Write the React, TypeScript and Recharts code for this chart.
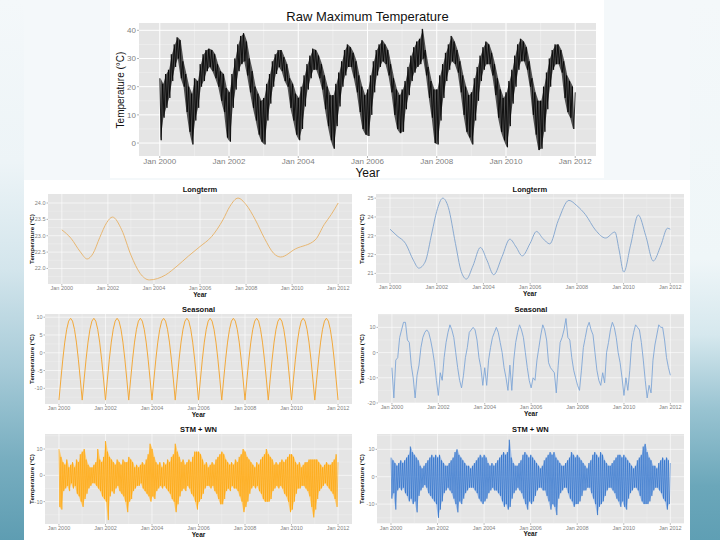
import React from 'react';
import { ComposedChart, Line, Area, XAxis, YAxis, CartesianGrid } from 'recharts';

const YEAR_TICKS = [2000, 2002, 2004, 2006, 2008, 2010, 2012];
const MINOR_YEARS = [2001, 2003, 2005, 2007, 2009, 2011];

// Raw maximum temperature: two readings per month (upper, lower), Jan 2000 .. Dec 2011, then Jan 2012
const rawMaxTemp = [
  23, 1, 21, 9, 24.5, 12.5, 26, 16, 31.5, 22, 35, 27, 37.5, 30, 36.5, 23, 29, 20, 24.5, 11, 20, 4, 17.5, -0.5,
  23, 8, 22, 12.5, 28, 20, 31.5, 22, 33, 25.5, 33.5, 27, 33, 25.5, 31.5, 23, 28, 20, 25.5, 15, 24.5, 11, 19.5, 2,
  18, 0.5, 24.5, 12.5, 30, 19, 35, 25.5, 38, 28, 39, 29, 36, 24, 30, 18, 25.5, 12.5, 20, 8, 17.5, 3, 15, 0.5,
  16, -0.5, 21, 8, 24.5, 14, 29, 20, 31.5, 24.5, 33, 27, 33, 25.5, 30.5, 22, 28, 20, 23, 12.5, 21, 8, 17.5, 3,
  16, 1, 20, 5, 24, 13, 28, 19, 31, 23, 33.5, 26, 33, 26, 31, 23, 28, 19, 24, 12, 20, 6, 17, 1,
  17, -2, 21, 6, 25, 13, 29, 20, 33, 24, 35, 27, 34, 27, 32, 23, 29, 18, 24, 11, 20, 5, 17, 3,
  19, 2.5, 24, 10, 29, 18, 33, 24, 35, 27, 36.5, 29, 35, 28, 33, 24, 28, 18, 23, 10, 19, 5, 17, 3.5,
  19, 4, 22, 12, 27, 17, 31, 22, 34, 25, 36, 27, 37, 28, 40.5, 30, 33, 24, 27, 16, 22, 9, 19, 0,
  19, -0.5, 24, 8, 28, 16, 32, 22, 35, 26, 38, 29, 36, 28, 33, 25, 29, 18, 24, 10, 20, 4, 17, 2,
  18, -0.5, 23, 8, 27, 15, 31, 22, 34, 26, 36, 28, 35, 28, 32, 24, 28, 17, 23, 9, 19, 4, 16, 1,
  18, -1.5, 22, 6, 26, 14, 31, 20, 35, 26, 37, 29, 36, 29, 34, 26, 29, 20, 23, 10, 18, 3, 15, -2.5,
  15, -2, 20, 4, 25, 12, 30, 20, 33, 26, 35, 28, 35, 28, 33, 25, 29, 16, 24, 11, 22, 9, 20, 5,
  18,
];

// Longterm component (orange)
const longtermOrangeTime = [
  2000.0, 2000.4, 2000.8, 2001.1, 2001.35, 2001.65, 2001.95, 2002.2, 2002.6, 2003.0, 2003.4,
  2003.8, 2004.5, 2005.0, 2005.5, 2006.0, 2006.5, 2007.0, 2007.3, 2007.65, 2008.0, 2008.4,
  2008.8, 2009.2, 2009.5, 2010.15, 2011.0, 2011.4, 2011.7, 2012.0,
];
const longtermOrangeValue = [
  23.18, 22.92, 22.51, 22.29, 22.45, 22.95, 23.4, 23.57, 23.18, 22.41, 21.85,
  21.65, 21.8, 22.07, 22.38, 22.67, 22.97, 23.49, 23.9, 24.15, 23.95, 23.49,
  22.92, 22.46, 22.35, 22.6, 22.87, 23.35, 23.65, 24.0,
];

// Longterm component (blue)
const longtermBlueTime = [
  2000.0, 2000.3, 2000.66, 2001.0, 2001.23, 2001.5, 2001.8, 2002.0, 2002.26, 2002.5, 2002.8,
  2003.05, 2003.27, 2003.55, 2003.87, 2004.15, 2004.44, 2004.8, 2005.13, 2005.4, 2005.66,
  2006.0, 2006.27, 2006.55, 2006.84, 2007.2, 2007.66, 2008.0, 2008.37, 2008.8, 2009.23,
  2009.63, 2009.8, 2010.01, 2010.3, 2010.63, 2010.95, 2011.27, 2011.6, 2011.88, 2012.0,
];
const longtermBlueValue = [
  23.35, 23.0, 22.6, 21.7, 21.28, 21.6, 23.2, 24.3, 25.0, 24.5, 22.6,
  21.1, 20.7, 21.4, 22.38, 21.7, 20.93, 21.9, 22.82, 22.4, 21.93,
  22.6, 23.23, 22.85, 22.57, 23.8, 24.88, 24.6, 24.12, 23.3, 22.88,
  23.2, 22.3, 21.07, 22.5, 24.1, 23.0, 21.66, 22.5, 23.4, 23.35,
];

// Seasonal component (orange): the same monthly cycle every year, Jan..Dec
const seasonalCycleOrange = [-13.3, -7.4, -1.8, 3.0, 6.6, 8.9, 9.7, 8.9, 6.6, 3.0, -1.8, -7.4];

// Seasonal component (blue): monthly, Jan 2000 .. Dec 2011, then Jan 2012
const seasonalBlue = [
  -6, -18, -3, -2, 6, 9, 12, 12, 5, 4, -5, -10,
  -18, -9, -5, 2, 6, 8, 9, 8, 5, 1, -4, -11,
  -17, -8, -11, -2, 4, 8, 11, 9, 6, 0, -6, -11,
  -14, -9, -2, 2, 8, 9, 10, 9, 5, -2, -6, -13,
  -6, -13, -3, 2, 6, 8, 10, 8, 4, 0, -6, -10,
  -15, -5, -15, -3, 4, 8, 11, 9, 6, 0, -6, -11,
  -14, -10, -11, -3, 2, 7, 11, 9, 5, -4, -6, -7,
  -8, -16, -5, 4, 6, 9, 13.5, 6, 5, -2, -7, -10,
  -13, -15, -7, 2, 6, 10, 12, 9, 7, 0, -7, -11,
  -13, -8, -12, 0, 4, 9, 12, 10, 6, 0, -4, -10,
  -17, -10, -15, -7, 4, 8, 11, 10, 9, 4, -3, -11,
  -18, -13, -16, -3, 3, 7, 11, 10, 10, 5, -2, -6,
  -9,
];

// STM + WN (orange): two readings per month (upper, lower)
const stmOrange = [
  10, -12, 7, -13, 5, -6, 4, -5, 6, -4, 3, -6, 4, -3, 5, -5, 3, -4, 6, -7, 5, -8, 8, -10,
  9, -12, 10, -9, 6, -7, 4, -5, 3, -4, 3, -3, 4, -3, 5, -4, 10, -5, 6, -6, 5, -8, 7, -9,
  13, -10, 9, -17, 7, -8, 6, -6, 5, -7, 4, -5, 6, -4, 5, -6, 4, -7, 6, -8, 5, -10, 5, -14,
  7, -10, 6, -9, 5, -6, 3, -5, 4, -4, 3, -4, 4, -3, 5, -5, 4, -6, 6, -7, 8, -8, 12, -10,
  10, -8, 7, -9, 5, -6, 4, -5, 5, -4, 3, -5, 5, -4, 4, -5, 6, -6, 5, -7, 7, -9, 8, -10,
  12, -14, 9, -11, 7, -8, 5, -6, 6, -5, 4, -6, 5, -4, 6, -5, 5, -7, 7, -8, 9, -10, 9, -13,
  9, -10, 8, -9, 6, -7, 4, -5, 5, -4, 3, -4, 4, -5, 5, -4, 4, -6, 6, -7, 7, -9, 8, -11,
  9, -11, 8, -9, 6, -6, 5, -5, 4, -6, 5, -4, 4, -5, 6, -5, 5, -6, 7, -8, 8, -10, 10, -14,
  9, -12, 7, -10, 6, -7, 5, -5, 4, -4, 3, -5, 5, -4, 4, -6, 6, -7, 7, -9, 8, -10, 10, -10,
  8, -10, 7, -9, 6, -6, 4, -5, 5, -4, 4, -5, 5, -4, 6, -5, 5, -7, 6, -8, 7, -10, 8, -14,
  8, -13, 7, -10, 5, -7, 4, -5, 5, -5, 3, -4, 4, -4, 5, -5, 5, -6, 6, -8, 6, -12, 6, -16,
  6, -13, 6, -9, 5, -6, 4, -5, 3, -4, 4, -3, 5, -4, 4, -5, 4, -6, 5, -7, 6, -9, 8, -12,
  5,
];

// STM + WN (blue): two readings per month (upper, lower)
const stmBlue = [
  7, -8, 6, -6, 5, -12, 4, -5, 5, -4, 6, -5, 5, -4, 6, -6, 7, -7, 8, -9, 11, -8, 9, -10,
  8, -9, 7, -13, 6, -7, 4, -5, 3, -4, 4, -3, 5, -4, 6, -6, 7, -7, 8, -8, 7, -9, 8, -10,
  7, -15, 8, -12, 6, -9, 5, -6, 4, -5, 4, -4, 5, -5, 6, -6, 7, -8, 9, -10, 10, -13, 8, -9,
  7, -10, 6, -8, 5, -6, 4, -5, 4, -4, 3, -4, 4, -4, 5, -5, 6, -6, 7, -8, 8, -9, 7, -10,
  8, -9, 7, -8, 5, -6, 4, -5, 5, -4, 4, -5, 5, -5, 6, -6, 7, -7, 8, -9, 9, -11, 8, -10,
  9, -12, 13.5, -11, 7, -8, 5, -6, 4, -5, 4, -4, 5, -5, 6, -6, 8, -8, 9, -10, 8, -12, 7, -9,
  8, -10, 7, -9, 6, -7, 5, -5, 4, -4, 3, -4, 4, -5, 6, -5, 7, -7, 8, -9, 9, -12, 8, -10,
  9, -11, 7, -14, 6, -8, 5, -6, 4, -5, 4, -4, 5, -4, 6, -6, 7, -8, 9, -9, 8, -11, 7, -10,
  8, -10, 7, -9, 6, -7, 5, -5, 4, -5, 3, -4, 5, -4, 6, -6, 8, -8, 9, -10, 8, -14, 7, -11,
  9, -10, 8, -9, 6, -7, 5, -5, 4, -4, 4, -4, 5, -5, 6, -6, 7, -8, 8, -9, 8, -11, 7, -9,
  8, -11, 7, -12, 6, -8, 5, -6, 4, -5, 3, -4, 4, -4, 6, -5, 7, -7, 8, -9, 11, -10, 12, -10,
  9, -10, 7, -9, 6, -7, 4, -5, 4, -4, 3, -4, 5, -5, 6, -6, 7, -8, 6, -9, 7, -12, 6, -10,
  5,
];

type Pt = { t: number; v: number };
type Band = { t: number; lo: number; hi: number };

const regular = (vals: number[], perYear: number): Pt[] =>
  vals.map((v, i) => ({ t: 2000 + i / perYear, v }));

// monthly envelope (lower, upper) from the paired readings
const envelope = (vals: number[]): Band[] => {
  const out: Band[] = [];
  for (let k = 0; 2 * k + 1 < vals.length; k++) {
    out.push({ t: 2000 + (2 * k + 0.5) / 24, lo: vals[2 * k + 1], hi: vals[2 * k] });
  }
  return out;
};

const rawData = regular(rawMaxTemp, 24);
const rawBand = envelope(rawMaxTemp);
const ltOrangeData: Pt[] = longtermOrangeTime.map((t, i) => ({ t, v: longtermOrangeValue[i] }));
const ltBlueData: Pt[] = longtermBlueTime.map((t, i) => ({ t, v: longtermBlueValue[i] }));
const seOrangeData: Pt[] = Array.from({ length: 145 }, (_, i) => ({
  t: 2000 + i / 12,
  v: seasonalCycleOrange[i % 12],
}));
const seBlueData = regular(seasonalBlue, 12);
const stOrangeData = regular(stmOrange, 24);
const stOrangeBand = envelope(stmOrange);
const stBlueData = regular(stmBlue, 24);
const stBlueBand = envelope(stmBlue);

const FONT = '"Liberation Sans", Arial, sans-serif';
const TICK_COLOR = '#7F7F7F';

type PanelProps = {
  data: Pt[];
  band?: Band[];
  bandFill?: string;
  bandOpacity?: number;
  left: number;
  top: number;
  right: number;
  bottom: number;
  yDomain: [number, number];
  yTicks: number[];
  yMinor: number[];
  color: string;
  strokeWidth: number;
  curve: 'linear' | 'monotone';
  yAxisW: number;
  xAxisH: number;
  tickFont: number;
  tickSize: number;
  tickMargin?: number;
  majorW: number;
  minorW: number;
  fmt?: (v: number) => string;
  opacity?: number;
};

function Panel(p: PanelProps) {
  const w = p.right - p.left + p.yAxisW;
  const h = p.bottom - p.top + p.xAxisH;
  const tickStyle = { fontSize: p.tickFont, fill: TICK_COLOR, fontFamily: FONT };
  const tm = p.tickMargin ?? 1;
  return (
    <div style={{ position: 'absolute', left: p.left - p.yAxisW, top: p.top, width: w, height: h }}>
      <ComposedChart width={w} height={h} margin={{ top: 0, right: 0, bottom: 0, left: 0 }}>
        <CartesianGrid
          fill="#E5E5E5"
          stroke="#F2F2F2"
          strokeWidth={p.minorW}
          horizontalValues={p.yMinor}
          verticalValues={MINOR_YEARS}
        />
        <CartesianGrid
          stroke="#FFFFFF"
          strokeWidth={p.majorW}
          horizontalValues={p.yTicks}
          verticalValues={YEAR_TICKS}
        />
        <XAxis
          dataKey="t"
          type="number"
          domain={[1999.4, 2012.6]}
          allowDataOverflow
          ticks={YEAR_TICKS}
          interval={0}
          tickFormatter={(v: number) => `Jan ${v}`}
          height={p.xAxisH}
          axisLine={false}
          tickLine={{ stroke: TICK_COLOR, strokeWidth: 0.6 }}
          tickSize={p.tickSize}
          tickMargin={tm}
          tick={tickStyle}
        />
        <YAxis
          type="number"
          domain={p.yDomain}
          allowDataOverflow
          ticks={p.yTicks}
          interval={0}
          tickFormatter={p.fmt ?? ((v: number) => `${v}`)}
          width={p.yAxisW}
          axisLine={false}
          tickLine={{ stroke: TICK_COLOR, strokeWidth: 0.6 }}
          tickSize={p.tickSize}
          tickMargin={1}
          tick={tickStyle}
        />
        {p.band ? (
          <Area
            data={p.band}
            dataKey={(d: Band) => [d.lo, d.hi]}
            type="linear"
            stroke="none"
            fill={p.bandFill ?? p.color}
            fillOpacity={p.bandOpacity ?? 0.6}
            dot={false}
            activeDot={false}
            isAnimationActive={false}
          />
        ) : null}
        <Line
          data={p.data}
          dataKey="v"
          type={p.curve}
          stroke={p.color}
          strokeWidth={p.strokeWidth}
          strokeOpacity={p.opacity ?? 1}
          dot={false}
          activeDot={false}
          isAnimationActive={false}
        />
      </ComposedChart>
    </div>
  );
}

type TxtProps = {
  x: number;
  y: number;
  size: number;
  bold?: boolean;
  rotate?: boolean;
  children: React.ReactNode;
};
function Txt({ x, y, size, bold, rotate, children }: TxtProps) {
  return (
    <div
      style={{
        position: 'absolute',
        left: x,
        top: y,
        transform: `translate(-50%, -50%)${rotate ? ' rotate(-90deg)' : ''}`,
        fontSize: size,
        fontWeight: bold ? 'bold' : 'normal',
        lineHeight: 1,
        whiteSpace: 'nowrap',
        color: '#111',
        fontFamily: FONT,
      }}
    >
      {children}
    </div>
  );
}

const small = {
  yAxisW: 18,
  xAxisH: 10,
  tickFont: 5.5,
  tickSize: 1.5,
  majorW: 0.6,
  minorW: 0.4,
};

const STM_TICKS = [-10, 0, 10];
const STM_MINOR = [-15, -5, 5, 15];

export default function App() {
  const panels = [
    { title: 'Longterm', left: 48, right: 352, top: 194, bottom: 284, tx: 31.7 },
    { title: 'Longterm', left: 375.7, right: 684, top: 194, bottom: 283, tx: 362 },
    { title: 'Seasonal', left: 45, right: 352, top: 314, bottom: 404, tx: 31.7 },
    { title: 'Seasonal', left: 377.7, right: 684, top: 314, bottom: 403, tx: 362 },
    { title: 'STM + WN', left: 45, right: 352, top: 434, bottom: 524, tx: 31.7 },
    { title: 'STM + WN', left: 376.7, right: 684, top: 434, bottom: 523.3, tx: 362 },
  ];
  return (
    <div
      style={{
        position: 'absolute',
        left: 0,
        top: 0,
        width: 720,
        height: 540,
        overflow: 'hidden',
        background: '#F4F8FA',
        fontFamily: FONT,
      }}
    >
      <div
        style={{
          position: 'absolute',
          left: 0,
          top: 0,
          width: 24,
          height: 540,
          background:
            'linear-gradient(180deg, #F4F8FA 0%, #EDF4F7 30%, #D3E5EC 50%, #A7CBD8 68%, #78AEC0 85%, #5E9DB2 100%)',
        }}
      />
      <div
        style={{
          position: 'absolute',
          left: 690,
          top: 0,
          width: 30,
          height: 540,
          background:
            'linear-gradient(180deg, #F4F8FA 0%, #EFF6F8 48%, #D6E8EE 62%, #98C3D1 76%, #6BA7BA 90%, #5F9FB4 100%)',
        }}
      />
      <div style={{ position: 'absolute', left: 110, top: 0, width: 494, height: 178, background: '#FFFFFF' }} />
      <div style={{ position: 'absolute', left: 24, top: 180, width: 666, height: 360, background: '#FFFFFF' }} />

      {/* Top chart */}
      <Panel
        data={rawData}
        band={rawBand}
        bandFill="#2A2A2A"
        bandOpacity={0.8}
        left={139}
        right={596}
        top={23}
        bottom={156}
        yDomain={[-4.6, 42.6]}
        yTicks={[0, 10, 20, 30, 40]}
        yMinor={[5, 15, 25, 35]}
        color="#000000"
        strokeWidth={0.8}
        curve="linear"
        yAxisW={28}
        xAxisH={20}
        tickFont={8}
        tickSize={2}
        tickMargin={0}
        majorW={1}
        minorW={0.6}
      />
      <Txt x={367.5} y={16} size={13}>Raw Maximum Temperature</Txt>
      <Txt x={367.5} y={173} size={12}>Year</Txt>
      <Txt x={121} y={89.5} size={10} rotate>Temperature (°C)</Txt>

      {/* Longterm */}
      <Panel
        {...small}
        data={ltOrangeData}
        left={48}
        right={352}
        top={194}
        bottom={284}
        yDomain={[21.525, 24.275]}
        yTicks={[22, 22.5, 23, 23.5, 24]}
        yMinor={[21.75, 22.25, 22.75, 23.25, 23.75]}
        fmt={(v: number) => v.toFixed(1)}
        color="#E8B772"
        strokeWidth={1}
        curve="monotone"
      />
      <Panel
        {...small}
        data={ltBlueData}
        left={375.7}
        right={684}
        top={194}
        bottom={283}
        yDomain={[20.49, 25.22]}
        yTicks={[21, 22, 23, 24, 25]}
        yMinor={[21.5, 22.5, 23.5, 24.5]}
        color="#8AAAD0"
        strokeWidth={1}
        curve="monotone"
      />

      {/* Seasonal */}
      <Panel
        {...small}
        data={seOrangeData}
        left={45}
        right={352}
        top={314}
        bottom={404}
        yDomain={[-14.4, 10.9]}
        yTicks={[-10, -5, 0, 5, 10]}
        yMinor={[-12.5, -7.5, -2.5, 2.5, 7.5]}
        color="#F2A93B"
        strokeWidth={1}
        curve="linear"
      />
      <Panel
        {...small}
        data={seBlueData}
        left={377.7}
        right={684}
        top={314}
        bottom={403}
        yDomain={[-20, 15.3]}
        yTicks={[-20, -10, 0, 10]}
        yMinor={[-15, -5, 5, 15]}
        color="#7FA6D6"
        strokeWidth={0.9}
        curve="linear"
      />

      {/* STM + WN */}
      <Panel
        {...small}
        data={stOrangeData}
        band={stOrangeBand}
        bandFill="#FFC45C"
        bandOpacity={0.85}
        left={45}
        right={352}
        top={434}
        bottom={524}
        yDomain={[-18.5, 15.7]}
        yTicks={STM_TICKS}
        yMinor={STM_MINOR}
        color="#FFA200"
        strokeWidth={0.6}
        curve="linear"
      />
      <Panel
        {...small}
        data={stBlueData}
        band={stBlueBand}
        bandFill="#7FAAE6"
        bandOpacity={0.7}
        left={376.7}
        right={684}
        top={434}
        bottom={523.3}
        yDomain={[-17, 15.6]}
        yTicks={STM_TICKS}
        yMinor={STM_MINOR}
        color="#1560C4"
        strokeWidth={0.55}
        opacity={0.9}
        curve="linear"
      />

      {panels.map((p, i) => {
        const cx = (p.left + p.right) / 2;
        const cy = (p.top + p.bottom) / 2;
        return (
          <React.Fragment key={i}>
            <Txt x={cx} y={p.top - 4} size={7.5} bold>
              {p.title}
            </Txt>
            <Txt x={cx} y={p.bottom + 11} size={6.5} bold>
              Year
            </Txt>
            <Txt x={p.tx} y={cy} size={6.2} bold rotate>
              Temperature (°C)
            </Txt>
          </React.Fragment>
        );
      })}
    </div>
  );
}
